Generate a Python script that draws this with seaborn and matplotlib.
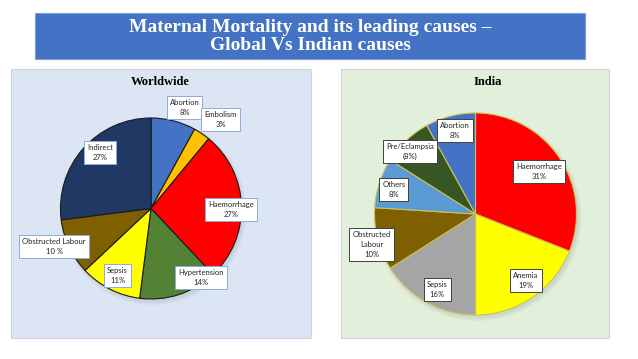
import matplotlib
matplotlib.use("Agg")
import matplotlib.pyplot as plt
import seaborn as sns
from matplotlib.patches import Rectangle, Circle

# data
world_causes = ["Abortion", "Embolism", "Haemorrhage", "Hypertension", "Sepsis", "Obstructed Labour", "Indirect"]
world_share = [8, 3, 27, 14, 11, 10, 27]
world_labels = ["Abortion\n8%", "Embolism\n3%", "Haemorrhage\n27%", "Hypertension\n14%",
                "Sepsis\n11%", "Obstructed Labour\n10 %", "Indirect\n27%"]
world_colors = ["#4472C4", "#FFC000", "#FF0000", "#548235", "#FFFF00", "#7F6000", "#203864"]

india_causes = ["Haemorrhage", "Anemia", "Sepsis", "Obstructed Labour", "Others", "Pre/Eclampsia", "Abortion"]
india_share = [31, 19, 16, 10, 8, 8, 8]
india_labels = ["Haemorrhage\n31%", "Anemia\n19%", "Sepsis\n16%", "Obstructed\nLabour\n10%",
                "Others\n8%", "Pre/Eclampsia\n(8%)", "Abortion\n8%"]
india_colors = ["#FF0000", "#FFFF00", "#A5A5A5", "#7F6000", "#5B9BD5", "#375623", "#4472C4"]

# label placement, in units of pie radius from the centre
world_label_pos = [(0.37, 1.12), (0.77, 0.98), (0.88, -0.01), (0.55, -0.76),
                   (-0.37, -0.74), (-1.07, -0.42), (-0.56, 0.62)]
india_label_pos = [(0.63, 0.42), (0.50, -0.66), (-0.38, -0.75), (-1.03, -0.30),
                   (-0.81, 0.24), (-0.65, 0.62), (-0.20, 0.83)]

W, H = 638, 359
sns.set_theme(style="white")
plt.rcParams["font.family"] = ["Lato", "DejaVu Sans"]

fig = plt.figure(figsize=(W / 100, H / 100), dpi=100)
ax = fig.add_axes([0, 0, 1, 1])


def py(y):
    # pixel row (from top) -> data y (from bottom)
    return H - y


def draw_panel(x0, x1, y0, y1, bg, title, title_x):
    ax.add_patch(Rectangle((x0, py(y1)), x1 - x0, y1 - y0, facecolor=bg,
                           edgecolor="#D0D5DC", lw=0.8, zorder=0))
    ax.text(title_x, py(82), title, ha="center", va="center", fontsize=9,
            fontweight="bold", family=["Liberation Serif"], color="black")


def draw_pie(values, colors, labels, label_pos, cx, cy, r, edge, box_edge):
    # soft shadow
    for k, a in enumerate([0.05, 0.05, 0.05]):
        ax.add_patch(Circle((cx + 2, py(cy) - 3), r + 3 - k * 1.5, color="#556070",
                            alpha=a, lw=0, zorder=1))
    ax.pie(values, colors=colors, startangle=90, counterclock=False,
           center=(cx, py(cy)), radius=r,
           wedgeprops=dict(edgecolor=edge, linewidth=0.8, zorder=2))
    for lab, (dx, dy) in zip(labels, label_pos):
        ax.text(cx + dx * r, py(cy) + dy * r, lab, ha="center", va="center",
                fontsize=5.5, color="#222222", linespacing=1.5, zorder=5,
                bbox=dict(boxstyle="square,pad=0.4", facecolor="white",
                          edgecolor=box_edge, lw=0.7))


# title banner
ax.add_patch(Rectangle((35, py(59)), 550, 46, facecolor="#4472C4",
                       edgecolor="#7F9BD6", lw=0.8, zorder=0))
ax.text(310, py(36.5), "Maternal Mortality and its leading causes \u2013\nGlobal Vs Indian causes",
        ha="center", va="center", fontsize=14, fontweight="bold", color="white",
        family=["Liberation Serif"], linespacing=1.0)

draw_panel(11, 311, 69, 338, "#DCE5F3", "Worldwide", 160)
draw_panel(341, 609, 69, 338, "#E2EFDA", "India", 488)

draw_pie(world_share, world_colors, world_labels, world_label_pos,
         151, 208.5, 90.5, "#1A1A1A", "#8FAADC")
draw_pie(india_share, india_colors, india_labels, india_label_pos,
         475.5, 214, 101, "#C9C25A", "#404040")

ax.set_xlim(0, W)
ax.set_ylim(0, H)
ax.set_aspect("equal")
ax.axis("off")

fig.savefig("out.png", dpi=100)
